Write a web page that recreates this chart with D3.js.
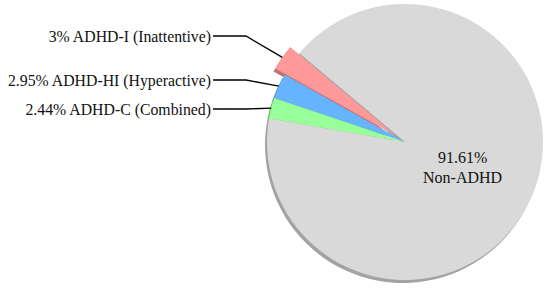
<!DOCTYPE html>
<html>
  <head>
    <meta charset="utf-8">
    <title>ADHD subtypes</title>
    <style>
      body { margin: 0; background: #fff; }
    </style>
  </head>
  <body>
    <div id="chart"></div>
    <script src="https://cdn.jsdelivr.net/npm/d3@7/dist/d3.min.js"></script>
    <script>
      (function(d3) {
        'use strict';

        var labels = ['ADHD-I (Inattentive)', 'ADHD-HI (Hyperactive)', 'ADHD-C (Combined)', 'Non-ADHD'];
        var values = [3, 2.95, 2.44, 91.61];
        var colors = ['#ff9999', '#66b3ff', '#99ff99', '#d9d9d9'];
        var explode = [0.08, 0, 0, 0];

        var width = 550;
        var height = 289;
        var cx = 405, cy = 142;
        var radius = 138;
        var labelY = [36, 80, 109];   // y of the left-side callouts
        var elbowX = 246;
        var textRight = 211;
        var serif = "Liberation Serif, Tinos, Times New Roman, DejaVu Serif, serif";

        var svg = d3.select('#chart')
          .append('svg')
          .attr('width', width)
          .attr('height', height);

        var g = svg.append('g')
          .attr('transform', 'translate(' + cx + ',' + cy + ')');

        // counterclockwise from 140 deg (math), like matplotlib startangle=140
        var start = (90 - 140) * Math.PI / 180;
        var pie = d3.pie()
          .value(function(d) { return d; })
          .sort(null)
          .startAngle(start)
          .endAngle(start - 2 * Math.PI);

        var arcs = pie(values);

        var arc = d3.arc()
          .innerRadius(0)
          .outerRadius(radius);

        function offset(d, i) {
          var mid = (d.startAngle + d.endAngle) / 2;
          var r = explode[i] * radius;
          return [Math.sin(mid) * r, -Math.cos(mid) * r];
        }

        // shadows first, below every wedge
        g.selectAll('path.shadow')
          .data(arcs)
          .enter().append('path')
          .attr('class', 'shadow')
          .attr('d', arc)
          .attr('fill', function(d, i) { return d3.color(colors[i]).darker(0.8); })
          .attr('transform', function(d, i) {
            var o = offset(d, i);
            return 'translate(' + (o[0] - 2) + ',' + (o[1] + 3) + ')';
          });

        g.selectAll('path.slice')
          .data(arcs)
          .enter().append('path')
          .attr('class', 'slice')
          .attr('d', arc)
          .attr('fill', function(d, i) { return colors[i]; })
          .attr('transform', function(d, i) {
            return 'translate(' + offset(d, i) + ')';
          });

        // callouts for the small slices
        var small = arcs.slice(0, 3);
        small.forEach(function(d, i) {
          var mid = (d.startAngle + d.endAngle) / 2;
          var o = offset(d, i);
          var ax = cx + o[0] + Math.sin(mid) * radius;
          var ay = cy + o[1] - Math.cos(mid) * radius;
          svg.append('polyline')
            .attr('points', [[textRight + 2, labelY[i]], [elbowX, labelY[i]], [ax, ay]].join(' '))
            .attr('fill', 'none')
            .attr('stroke', '#000')
            .attr('stroke-width', 1.3);
          svg.append('text')
            .attr('x', textRight)
            .attr('y', labelY[i])
            .attr('dy', '0.35em')
            .attr('text-anchor', 'end')
            .style('font-family', serif)
            .style('font-size', '15.8px')
            .attr('fill', '#111')
            .text(values[i] + '% ' + labels[i]);
        });

        // label inside the big slice
        var big = arcs[3];
        var bmid = (big.startAngle + big.endAngle) / 2;
        var bx = cx + Math.sin(bmid) * radius * 0.46;
        var by = cy - Math.cos(bmid) * radius * 0.46 - 3;
        var t = svg.append('text')
          .attr('x', bx)
          .attr('y', by)
          .attr('text-anchor', 'middle')
          .style('font-family', serif)
          .style('font-size', '16px')
          .attr('fill', '#111');
        t.append('tspan').attr('x', bx).attr('dy', '-0.2em').text(values[3] + '%');
        t.append('tspan').attr('x', bx).attr('dy', '1.3em').text(labels[3]);

      })(window.d3);
    </script>
  </body>
</html>
